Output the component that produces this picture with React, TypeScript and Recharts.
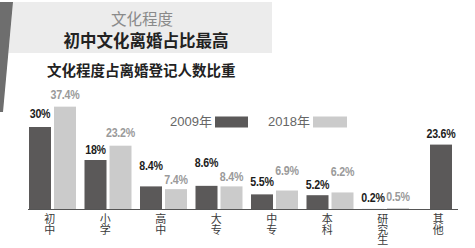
import React from 'react';
import { BarChart, Bar, XAxis, YAxis, LabelList } from 'recharts';

// Education level categories and the share of divorce registrations (%)
const categories = ['初中', '小学', '高中', '大专', '中专', '本科', '研究生', '其他'];
const share2009 = [30, 18, 8.4, 8.6, 5.5, 5.2, 0.2, 23.6];
const share2018: (number | null)[] = [37.4, 23.2, 7.4, 8.4, 6.9, 6.2, 0.5, null];
const seriesNames = ['2009年', '2018年'];

// Extra lift (px) of each value label above its bar, to keep labels apart
const lift2009 = [9, 6, 16, 19, 8, 6, 7, 7];
const lift2018 = [8, 9, 5, 5, 16, 16, 7, 7];

const W = 475;
const H = 248;
const BAR_SIZE = 22;
const BAR_GAP = 3;
const DARK = '#5b5959';
const LIGHT = '#cbcbcb';
const LABEL_FONT = 'Liberation Sans, Arial, sans-serif';
const CJK = 'Noto Sans CJK SC, Noto Sans, sans-serif';
const LATIN_CJK = 'Liberation Sans, Noto Sans CJK SC, sans-serif';

const data = categories.map((name, i) => ({
  name,
  y2009: share2009[i],
  y2018: share2018[i],
}));

// A category with only one series gets its bar centred in the band
const soloShift = (index: number) =>
  data[index] && data[index].y2018 == null ? (BAR_SIZE + BAR_GAP) / 2 : 0;

const makeShape = (color: string) => (props: any) => {
  const { x, y, width, height, index } = props;
  if (height == null || width == null || isNaN(height)) return <g />;
  return (
    <rect
      x={x + soloShift(index)}
      y={y}
      width={width}
      height={Math.max(height, 0)}
      fill={color}
    />
  );
};

// Value labels use a narrowed bold face
const makeLabel = (color: string, lifts: number[]) => (props: any) => {
  const { value, index } = props;
  if (value == null) return null;
  const vb = props.viewBox || props;
  const x = (props.x ?? vb.x) as number;
  const y = (props.y ?? vb.y) as number;
  const w = (props.width ?? vb.width) as number;
  const cx = x + w / 2 + soloShift(index);
  const cy = y - lifts[index];
  return (
    <text
      transform={`translate(${cx},${cy}) scale(0.82,1)`}
      x={0}
      y={0}
      textAnchor="middle"
      fill={color}
      fontFamily={LABEL_FONT}
      fontWeight="bold"
      fontSize={13}
      letterSpacing={-0.3}
    >
      {`${value}%`}
    </text>
  );
};

// Category names are set vertically, top to bottom
const VerticalTick = (props: any) => {
  const { x, y, payload } = props;
  return (
    <text
      x={x - 3}
      y={y + 4}
      textAnchor="start"
      fill="#3a3a3a"
      fontFamily={CJK}
      fontSize={11}
      letterSpacing={-0.5}
      style={{ writingMode: 'vertical-rl' }}
    >
      {payload.value}
    </text>
  );
};

export default function App() {
  return (
    <div
      style={{
        position: 'absolute',
        left: 0,
        top: 0,
        width: W,
        height: H,
        background: '#fff',
        overflow: 'hidden',
      }}
    >
      <svg
        width={W}
        height={H}
        style={{ position: 'absolute', left: 0, top: 0 }}
      >
        <polygon points="13,2 272,2 272,53 8.4,53" fill="#ececec" />
        <polygon points="0,2 13,2 3,112 0,112" fill="#6e6e6e" />
        <text
          x={142}
          y={24.5}
          textAnchor="middle"
          fontFamily={CJK}
          fontSize={15.5}
          fill="#8a8a8a"
        >
          文化程度
        </text>
        <text
          x={146}
          y={46.5}
          textAnchor="middle"
          fontFamily={CJK}
          fontSize={16.5}
          fontWeight="bold"
          fill="#222"
        >
          初中文化离婚占比最高
        </text>
        <text
          x={47}
          y={75.5}
          fontFamily={CJK}
          fontSize={14.5}
          fontWeight="bold"
          fill="#222"
        >
          文化程度占离婚登记人数比重
        </text>
        {/* legend */}
        <text x={170} y={126} fontFamily={LATIN_CJK} fontSize={13} fill="#666">
          {seriesNames[0]}
        </text>
        <rect x={215} y={116.5} width={33} height={11} fill={DARK} />
        <text x={268} y={126} fontFamily={LATIN_CJK} fontSize={13} fill="#666">
          {seriesNames[1]}
        </text>
        <rect x={313} y={116.5} width={34} height={11} fill={LIGHT} />
      </svg>
      <div style={{ position: 'absolute', left: 0, top: 0 }}>
        <BarChart
          width={W}
          height={H}
          data={data}
          margin={{ top: 99.5, right: 17, bottom: 8.5, left: 28 }}
          barSize={BAR_SIZE}
          barGap={BAR_GAP}
        >
          <XAxis
            dataKey="name"
            height={30}
            padding={{ left: -3, right: -11 }}
            tickLine={false}
            tickSize={0}
            tickMargin={0}
            axisLine={{ stroke: '#555', strokeWidth: 1 }}
            tick={<VerticalTick />}
            interval={0}
          />
          <YAxis hide domain={[0, 40]} />
          <Bar
            dataKey="y2009"
            name={seriesNames[0]}
            fill={DARK}
            shape={makeShape(DARK)}
            isAnimationActive={false}
          >
            <LabelList dataKey="y2009" content={makeLabel('#1c1c1c', lift2009)} />
          </Bar>
          <Bar
            dataKey="y2018"
            name={seriesNames[1]}
            fill={LIGHT}
            shape={makeShape(LIGHT)}
            isAnimationActive={false}
          >
            <LabelList dataKey="y2018" content={makeLabel('#9a9a9a', lift2018)} />
          </Bar>
        </BarChart>
      </div>
    </div>
  );
}
